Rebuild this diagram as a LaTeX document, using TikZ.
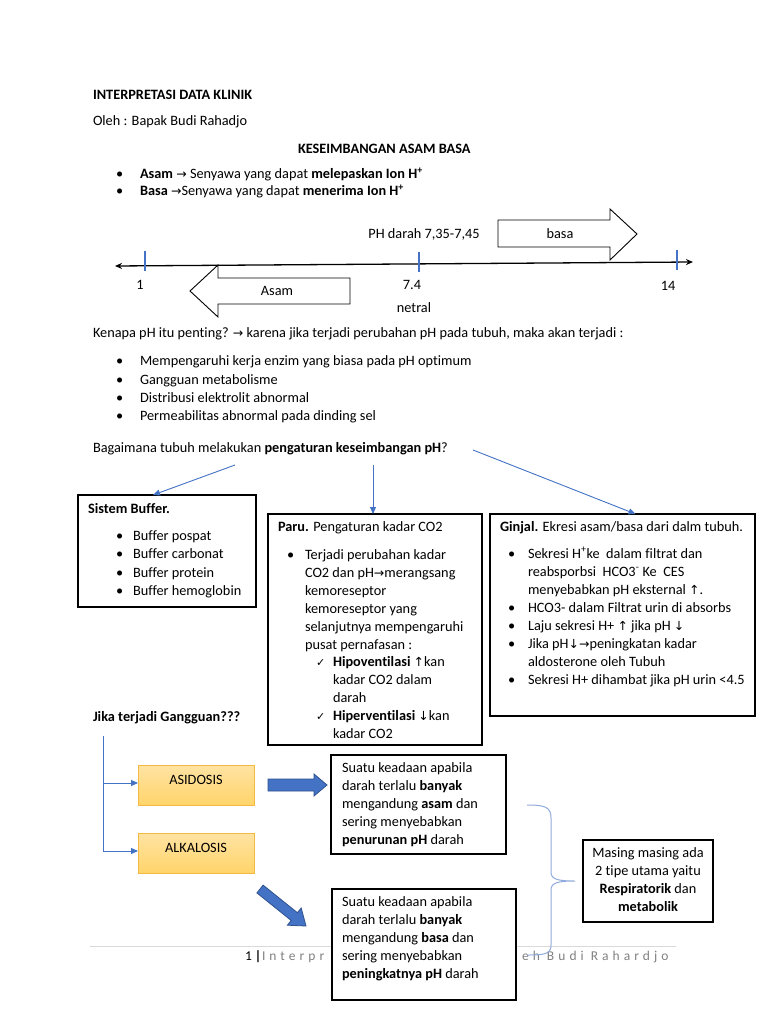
\documentclass[tikz,border=0pt]{standalone}
\usepackage{fontspec}
\setmainfont{Carlito}[Ligatures=NoCommon]
\newfontfamily\symfont{DejaVu Sans}
\newfontfamily\footfont{Carlito}[LetterSpace=30,Ligatures=NoCommon]
\usetikzlibrary{arrows.meta,calc}
\definecolor{wblue}{HTML}{4472C4}
\definecolor{wbluedark}{HTML}{2F528F}
\definecolor{bracec}{HTML}{8FAADC}
\definecolor{orA}{HTML}{FFE3A3}
\definecolor{orB}{HTML}{FFD46A}
\definecolor{orEdge}{HTML}{F4B942}
\definecolor{footgray}{HTML}{808080}
\definecolor{footline}{HTML}{D9D9D9}
\newcommand\body{\fontsize{14.3}{18}\selectfont}
\newcommand\rar{{\symfont\fontsize{12.5}{18}\selectfont →}}
\newcommand\uar{{\symfont\fontsize{12.5}{18}\selectfont ↑}}
\newcommand\dar{{\symfont\fontsize{12.5}{18}\selectfont ↓}}
\newcommand\chk{{\symfont\fontsize{11}{18}\selectfont ✓}}
\tikzset{
  txt/.style={anchor=base west, inner sep=0pt, outer sep=0pt, font=\body},
  ctxt/.style={anchor=base, inner sep=0pt, outer sep=0pt, font=\body},
  boxst/.style={draw=black, line width=1.2pt, fill=white, anchor=north west, inner sep=0pt, outer sep=0pt},
  orbox/.style={draw=orEdge, line width=1pt, top color=orA, bottom color=orB, anchor=north west, inner sep=0pt, outer sep=0pt, minimum width=116pt, minimum height=40pt},
  conn/.style={draw=wblue, line width=0.9pt, -{Triangle[length=7pt,width=6pt]}},
  tick/.style={draw=wblue, line width=2.4pt},
  blockarrow/.style={draw=black, line width=0.9pt, fill=white},
  bluearrow/.style={draw=wbluedark, line width=0.8pt, fill=wblue},
  foot/.style={anchor=base west, inner sep=0pt, outer sep=0pt, font=\fontsize{13.5}{15}\selectfont},
}
\begin{document}
\begin{tikzpicture}[x=1pt,y=-1pt]
\useasboundingbox (0,0) rectangle (768,1024);
\fill[white] (0,0) rectangle (768,1024);

% header
\node[txt] (title) at (93,99.5) {\textbf{INTERPRETASI DATA KLINIK}};
\node[txt] (oleh) at (93,126) {Oleh : Bapak Budi Rahadjo};
\node[txt] (kes) at (298,154) {\textbf{KESEIMBANGAN ASAM BASA}};
\node[txt] (bua) at (116,178.3) {\textbullet};
\node[txt] (bub) at (116,196) {\textbullet};
\node[txt] (asamdef) at (140,178.3) {\textbf{Asam} \rar{} Senyawa yang dapat \textbf{melepaskan Ion H\textsuperscript{+}}};
\node[txt] (basadef) at (140,196) {\textbf{Basa} \rar Senyawa yang dapat \textbf{menerima Ion H\textsuperscript{+}}};

% number line
\coordinate (nlL) at (115,266);
\coordinate (nlR) at (693,262);
\draw[line width=1.3pt, {Stealth[length=7pt,width=6pt]}-{Stealth[length=7pt,width=6pt]}] (nlL) -- (nlR);
\draw[tick] (145,251) -- (145,271);
\draw[tick] (419,252) -- (419,272);
\draw[tick] (677,250) -- (677,270);
\node[ctxt] (l1) at (140,289) {1};
\node[ctxt] (l74) at (412,289) {7.4};
\node[ctxt] (l14) at (668,290) {14};
\node[ctxt] (netral) at (414,312) {netral};
\node[ctxt] (phdarah) at (424,238) {PH darah 7,35-7,45};
\draw[blockarrow] (498,220) -- (610,220) -- (610,209) -- (637,234) -- (610,260) -- (610,247) -- (498,247) -- cycle;
\node[ctxt] (basa) at (560,238.5) {basa};
\draw[blockarrow] (350,278) -- (218,278) -- (218,265) -- (190,291) -- (218,317) -- (218,304) -- (350,304) -- cycle;
\node[ctxt] (asam) at (277,295.5) {Asam};

% why pH important
\node[txt] (kenapa) at (93,337.5) {Kenapa pH itu penting? \rar{} karena jika terjadi perubahan pH pada tubuh, maka akan terjadi :};
\foreach \yy [count=\i] in {365.5,384,402.5,420.5} \node[txt] (kb\i) at (116,\yy) {\textbullet};
\node[txt] (k1) at (140,365.5) {Mempengaruhi kerja enzim yang biasa pada pH optimum};
\node[txt] (k2) at (140,384) {Gangguan metabolisme};
\node[txt] (k3) at (140,402.5) {Distribusi elektrolit abnormal};
\node[txt] (k4) at (140,420.5) {Permeabilitas abnormal pada dinding sel};
\node[txt] (bagaimana) at (93,452) {Bagaimana tubuh melakukan \textbf{pengaturan keseimbangan pH}?};

% three boxes
\node[boxst, minimum width=178pt, minimum height=112pt] (buffer) at (78,495) {};
\node[boxst, minimum width=214pt, minimum height=231pt] (paru) at (268,514) {};
\node[boxst, minimum width=265pt, minimum height=202pt] (ginjal) at (490,514) {};

\coordinate (q1) at (235,465);
\coordinate (q2) at (373,465);
\coordinate (q3) at (473,450);
\draw[conn] (q1) -- ($(buffer.north)+(-14,0)$);
\draw[conn] (q2) -- ($(paru.north)+(-2,0)$);
\draw[conn] (q3) -- ($(ginjal.north)+(13,0)$);

% buffer content
\node[txt] (buftitle) at (88,513) {\textbf{Sistem Buffer.}};
\foreach \yy [count=\i] in {540,558,577,595} \node[txt] (bb\i) at (116,\yy) {\textbullet};
\node[txt] (bufitems) at (133,540) {\parbox[t]{120pt}{Buffer pospat\\[0.5pt]Buffer carbonat\\[0.5pt]Buffer protein\\[0.5pt]Buffer hemoglobin}};

% paru content
\node[txt] (parutitle) at (278,531) {\textbf{Paru.} Pengaturan kadar CO2};
\node[txt] (pb1) at (287,559) {\textbullet};
\node[txt] (parutext) at (305,559) {\parbox[t]{175pt}{Terjadi perubahan kadar\\CO2 dan pH\rar merangsang\\kemoreseptor\\kemoreseptor yang\\selanjutnya mempengaruhi\\pusat pernafasan :}};
\node[txt] (pc1) at (316,666) {\chk};
\node[txt] (pc2) at (316,720) {\chk};
\node[txt] (hipo) at (333,666) {\parbox[t]{140pt}{\textbf{Hipoventilasi} \uar kan\\kadar CO2 dalam\\darah}};
\node[txt] (hiper) at (333,720) {\parbox[t]{140pt}{\textbf{Hiperventilasi} \dar kan\\kadar CO2}};

% ginjal content
\node[txt] (gintitle) at (500,531) {\textbf{Ginjal.} Ekresi asam/basa dari dalm tubuh.};
\foreach \yy [count=\i] in {558,612,630,648,684} \node[txt] (gb\i) at (508,\yy) {\textbullet};
\node[txt] (gin1) at (528,558) {\parbox[t]{225pt}{Sekresi H\textsuperscript{+}ke\ \ dalam filtrat dan\\reabsporbsi\ \ HCO3\textsuperscript{-} Ke\ \ CES\\menyebabkan pH eksternal \uar.}};
\node[txt] (gin2) at (528,612) {HCO3- dalam Filtrat urin di absorbs};
\node[txt] (gin3) at (528,630) {Laju sekresi H+ \uar{} jika pH \dar};
\node[txt] (gin4) at (528,648) {\parbox[t]{225pt}{Jika pH\dar\rar peningkatan kadar\\aldosterone oleh Tubuh}};
\node[txt] (gin5) at (528,684) {Sekresi H+ dihambat jika pH urin <4.5};

% disorders
\node[txt] (jika) at (93,721) {\textbf{Jika terjadi Gangguan???}};
\node[orbox] (asid) at (138,765) {};
\node[orbox] (alk) at (138,833) {};
\node[ctxt] (asidt) at (196,784) {ASIDOSIS};
\node[ctxt] (alkt) at (196,852) {ALKALOSIS};
\coordinate (treetop) at (103,736);
\draw[conn] (treetop) |- ($(asid.west)+(0,-2)$);
\draw[conn] (treetop) |- ($(alk.west)+(0,-2)$);

% footer (partly hidden behind box 2)
\draw[footline, line width=0.8pt] (90,946) -- (676,946);
\node[foot] (footnum) at (245,960) {1 \textbf{|}};
\node[foot, text=footgray] (footA) at (262,960) {\footfont Interpr};
\node[foot, text=footgray] (footB) at (522,960) {\footfont eh Budi Rahardjo};

% brace
\draw[bracec, line width=1pt] (527,805) .. controls (545,805) and (551,807) .. (551,818) -- (551,872) .. controls (551,879) and (557,881) .. (575,881) .. controls (557,881) and (551,883) .. (551,890) -- (551,945) .. controls (551,954) and (545,955) .. (527,955);

% result boxes
\node[boxst, minimum width=175pt, minimum height=99pt] (box1) at (331,755) {};
\node[txt] (box1t) at (342,772) {\parbox[t]{165pt}{Suatu keadaan apabila\\darah terlalu \textbf{banyak}\\mengandung \textbf{asam} dan\\sering menyebabkan\\\textbf{penurunan pH} darah}};
\node[boxst, minimum width=184pt, minimum height=111pt] (box2) at (332,889) {};
\node[txt] (box2t) at (342,906) {\parbox[t]{170pt}{Suatu keadaan apabila\\darah terlalu \textbf{banyak}\\mengandung \textbf{basa} dan\\sering menyebabkan\\\textbf{peningkatnya pH} darah}};
\node[boxst, minimum width=130pt, minimum height=82pt] (masing) at (583,840) {};
\node[ctxt] (masingt) at (648,857) {\parbox[t]{130pt}{\centering Masing masing ada\\2 tipe utama yaitu\\\textbf{Respiratorik} dan\\\textbf{metabolik}}};

% block arrows
\draw[bluearrow] (268,779) -- (314,779) -- (314,774) -- (327,785) -- (314,796) -- (314,791) -- (268,791) -- cycle;
\draw[bluearrow] (263.1,885.1) -- (297.4,912.7) -- (301.2,908.0) -- (306,926) -- (287.4,925.2) -- (291.2,920.5) -- (256.9,892.9) -- cycle;
\end{tikzpicture}
\end{document}
